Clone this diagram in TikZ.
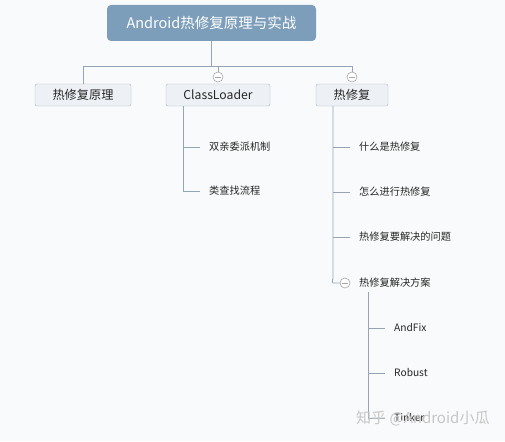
\documentclass[tikz,border=0pt]{standalone}
\usepackage{fontspec}
\setmainfont{Noto Sans CJK SC}
\begin{document}
\begin{tikzpicture}[x=1pt,y=-1pt,
  line/.style={draw=lineC, line width=0.8pt},
  rootbox/.style={fill=rootC, rounded corners=4pt, minimum width=209pt, minimum height=36pt, text=white, font=\fontsize{14.5}{16}\selectfont, inner sep=0pt},
  childbox/.style={draw=boxB, fill=boxF, rounded corners=2pt, minimum height=22pt, inner sep=0pt, font=\fontsize{12.2}{14}\selectfont, text=black!85},
  leaf/.style={anchor=west, inner sep=0pt, font=\fontsize{10.2}{12}\selectfont, text=black!85},
  toggle/.style={circle, draw=gray!70, fill=white, line width=0.6pt, minimum size=10pt, inner sep=0pt, path picture={\draw[gray!70, line width=0.6pt] ([xshift=-3pt]path picture bounding box.center) -- ([xshift=3pt]path picture bounding box.center);}},
  wm/.style={text=gray!45, font=\fontsize{15}{17}\selectfont, anchor=west, inner sep=0pt}
]
\definecolor{rootC}{HTML}{7C9EBA}
\definecolor{lineC}{HTML}{95A5B5}
\definecolor{boxB}{HTML}{A9B5C1}
\definecolor{boxF}{HTML}{EDF1F5}
\definecolor{bgC}{HTML}{F9FAFB}
\fill[bgC] (0,0) rectangle (505,441);
\useasboundingbox (0,0) rectangle (505,441);

\node[rootbox] (root) at (211.5,23) {Android热修复原理与实战};

\node[childbox, minimum width=96pt] (c1) at (83,95) {热修复原理};
\node[childbox, minimum width=104pt] (c2) at (218,95) {ClassLoader};
\node[childbox, minimum width=72pt] (c3) at (352,95) {热修复};
\node[toggle] (t2) at (218,77) {};
\node[toggle] (t3) at (352,77) {};

\coordinate (hub) at (211.5,66);
\draw[line] (root.south) -- (hub);
\draw[line] (c1.north) |- (hub);
\draw[line] (hub) -| (t3.north);
\draw[line] (hub -| t2) -- (t2.north);

% ClassLoader subtree
\node[leaf] (l1) at (209,147) {双亲委派机制};
\node[leaf] (l2) at (209,191) {类查找流程};
\coordinate (v2) at (183,106);
\draw[line] (v2) |- ([xshift=-9pt]l2.west);
\draw[line] (v2 |- l1) -- ([xshift=-9pt]l1.west);

% 热修复 subtree
\node[leaf] (m1) at (359,147) {什么是热修复};
\node[leaf] (m2) at (359,192) {怎么进行热修复};
\node[leaf] (m3) at (359,237) {热修复要解决的问题};
\node[leaf] (m4) at (359,283) {热修复解决方案};
\node[toggle] (t4) at (345,283) {};
\coordinate (v3) at (333,106);
\draw[line] (v3) -- (333,279) to[out=90,in=180] (333,283) -- (t4.west);
\draw[line] (v3 |- m1) -- ([xshift=-9pt]m1.west);
\draw[line] (v3 |- m2) -- ([xshift=-9pt]m2.west);
\draw[line] (v3 |- m3) -- ([xshift=-9pt]m3.west);

% 解决方案 subtree
\node[leaf] (n1) at (394,328) {AndFix};
\node[leaf] (n2) at (394,373) {Robust};
\node[leaf] (n3) at (394,418) {Tinker};
\coordinate (v4) at (368,292);
\draw[line] (v4) |- ([xshift=-9pt]n3.west);
\draw[line] (v4 |- n1) -- ([xshift=-9pt]n1.west);
\draw[line] (v4 |- n2) -- ([xshift=-9pt]n2.west);

\node[wm] (wmark) at (356,418) {知乎 @Android小瓜};
\end{tikzpicture}
\end{document}
